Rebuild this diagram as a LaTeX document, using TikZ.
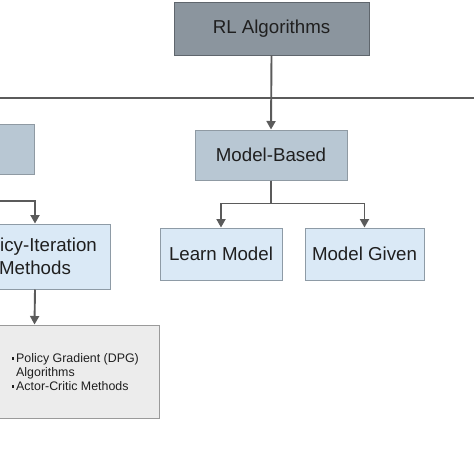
\documentclass[tikz,border=0pt]{standalone}
\usepackage{fontspec}
\setmainfont{Liberation Sans}
\usetikzlibrary{arrows.meta, positioning}
\definecolor{rlGray}{HTML}{8B959E}
\definecolor{rlEdge}{HTML}{5F666D}
\definecolor{catBlue}{HTML}{B8C7D3}
\definecolor{catEdge}{HTML}{8F9AA3}
\definecolor{leafBlue}{HTML}{DAE9F6}
\definecolor{leafEdge}{HTML}{8E9BA6}
\definecolor{listGray}{HTML}{ECECEC}
\definecolor{listEdge}{HTML}{9A9A9A}
\definecolor{lineGray}{HTML}{5B5B5B}
\newcommand{\listmark}{\makebox[4pt][l]{\raisebox{2.6pt}{\rule{2.2pt}{2.2pt}}}}

\begin{document}
\begin{tikzpicture}[
    x=1pt, y=-1pt,
    box_node/.style={
        rectangle,
        line width=1pt,
        inner sep=0pt,
        align=center,
        text=black!88,
        font=\fontsize{18.7}{23}\selectfont
    },
    root_node/.style={
        box_node,
        draw=rlEdge,
        fill=rlGray,
        minimum width=195pt,
        minimum height=53pt
    },
    cat_node/.style={
        box_node,
        draw=catEdge,
        fill=catBlue,
        minimum width=152pt,
        minimum height=50pt
    },
    leaf_node/.style={
        box_node,
        draw=leafEdge,
        fill=leafBlue,
        minimum height=52pt
    },
    list_box/.style={
        rectangle,
        draw=listEdge,
        line width=1pt,
        fill=listGray,
        minimum width=249pt,
        minimum height=93pt
    },
    list_text/.style={
        align=left,
        inner sep=0pt,
        text=black!88,
        font=\fontsize{12.4}{14}\selectfont
    },
    tree_edge/.style={
        -{Triangle[length=8.5pt, width=9pt]},
        line width=1.9pt,
        draw=lineGray
    },
    divider/.style={
        line width=1.9pt,
        draw=lineGray
    }
]
    \useasboundingbox (0,0) rectangle (474,474);
    \clip (0,0) rectangle (474,474);
    \fill[white] (0,0) rectangle (474,474);

    % Root
    \node[root_node] (rl) at (271.5, 28.5) {RL Algorithms};
    \draw[divider] (-10, 98) -- (484, 98);

    % Categories
    \node[cat_node] (mf) at (-42, 149.5) {};
    \node[cat_node] (mb) at (271, 155) {Model-Based};

    % Leaves
    \node[leaf_node, minimum width=150pt, minimum height=65pt] (pi) at (35, 256.5)
        {Policy-Iteration\\Methods};
    \node[leaf_node, minimum width=122pt] (lm) at (221, 254) {Learn Model};
    \node[leaf_node, minimum width=119pt] (mg) at (364.5, 254) {Model Given};

    % Method list
    \node[list_box] (pg) at (34.5, 371.5) {};
    \node[list_text, anchor=north west] (pgtext) at (12, 353) {
        \listmark Policy Gradient (DPG)\\
        \hspace*{4pt}Algorithms\\
        \listmark Actor-Critic Methods
    };

    % Edges
    \draw[tree_edge] (rl.south) -- (mb.north);
    \draw[tree_edge] (mb.south) -- ++(0, 23) -| (lm.north);
    \draw[tree_edge] (mb.south) -- ++(0, 23) -| (mg.north);
    \draw[tree_edge] (mf.south) -- ++(0, 26) -| (pi.north);
    \draw[tree_edge] (pi.south) -- (pg.north);
\end{tikzpicture}
\end{document}
